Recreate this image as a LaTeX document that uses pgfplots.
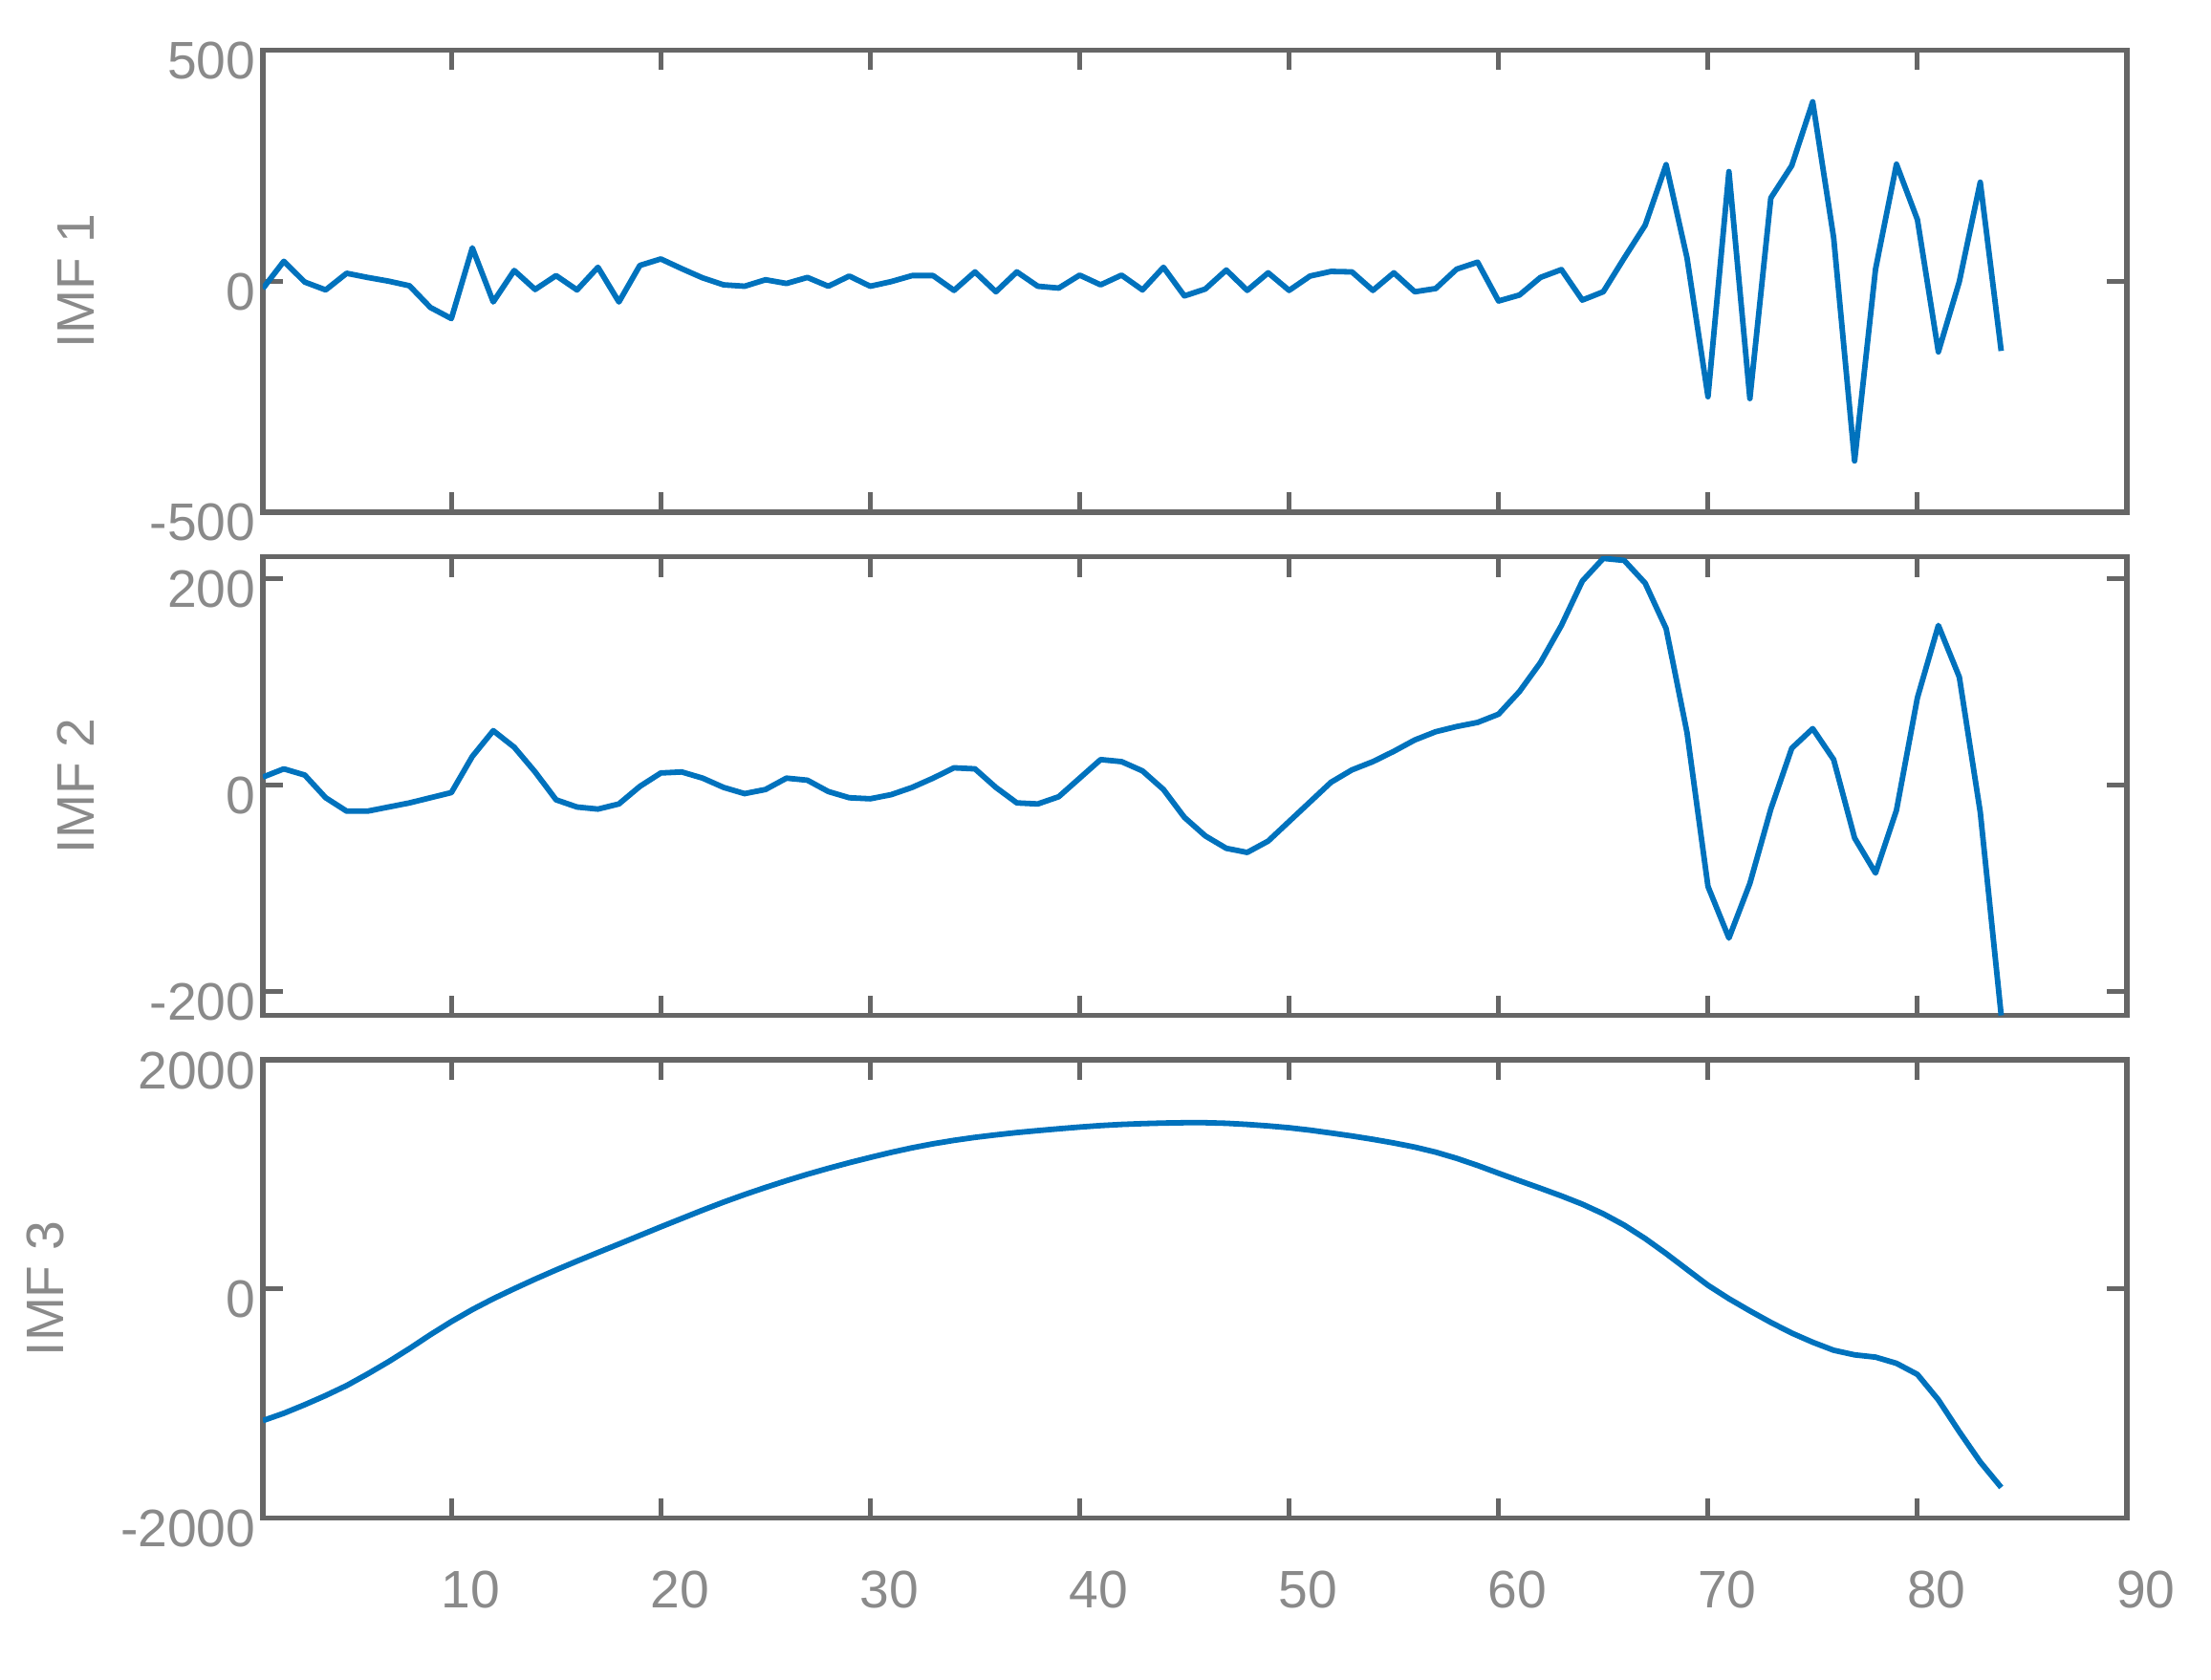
\documentclass[border=0pt]{standalone}
\usepackage{fontspec}
\setmainfont{Liberation Sans}
\usepackage{pgfplots}
\pgfplotsset{compat=1.18}
\definecolor{axgray}{RGB}{102,102,102}
\definecolor{txtgray}{RGB}{138,138,138}
\definecolor{mblue}{RGB}{0,114,189}
\pgfplotsset{imf/.style={
  scale only axis, width=487.5pt, xmin=1, xmax=90,
  anchor=south west,
  axis line style={axgray, line width=1.3pt},
  tick style={axgray, line width=1.3pt},
  major tick length=5.25pt,
  tick align=inside,
  xtick={10,20,30,40,50,60,70,80,90},
  xticklabels={},
  font=\fontsize{13.8}{16}\selectfont,
  tick label style={text=txtgray},
  label style={text=txtgray},
  yticklabel style={yshift=-2.75pt, xshift=1.6pt},
  xticklabel style={yshift=-10.4pt, xshift=5pt},
  ylabel shift=7.8pt,
  cycle list={{mblue, line width=1.45pt, line join=round, mark=none}},
}}
\begin{document}
\begin{tikzpicture}
\path[use as bounding box] (0,0) rectangle (578.25pt,439.25pt);
\begin{axis}[imf, at={(68.75pt,305.25pt)}, height=120.9pt,
  ymin=-500, ymax=500, ytick={-500,0,500}, yticklabels={-500,0,500},
  ylabel={IMF 1}]
\addplot[mblue, line width=1.45pt, line join=round, mark=none] coordinates {(1,-16) (2,43) (3,-2) (4,-19) (5,17) (6,8) (7,0) (8,-10) (9,-57) (10,-81)
(11,72) (12,-45) (13,23) (14,-18) (15,12) (16,-19) (17,30) (18,-45) (19,34) (20,48)
(21,27) (22,7) (23,-8) (24,-11) (25,3) (26,-5) (27,8) (28,-11) (29,11) (30,-11)
(31,-1) (32,12) (33,12) (34,-20) (35,20) (36,-23) (37,20) (38,-11) (39,-15) (40,13)
(41,-8) (42,13) (43,-19) (44,30) (45,-32) (46,-17) (47,24) (48,-20) (49,18) (50,-20)
(51,11) (52,21) (53,20) (54,-20) (55,18) (56,-23) (57,-16) (58,26) (59,41) (60,-43)
(61,-30) (62,8) (63,25) (64,-41) (65,-23) (66,50) (67,121) (68,252) (69,50) (70,-250)
(71,237) (72,-254) (73,180) (74,250) (75,388) (76,94) (77,-389) (78,26) (79,253) (80,133)
(81,-153) (82,-1) (83,214) (84,-151)};
\end{axis}
\begin{axis}[imf, at={(68.75pt,173.6pt)}, height=120pt,
  ymin=-223, ymax=221.6, ytick={-200,0,200}, yticklabels={-200,0,200},
  ylabel={IMF 2}]
\addplot[mblue, line width=1.45pt, line join=round, mark=none] coordinates {(1,8) (2,16) (3,10) (4,-12) (5,-25) (6,-25) (7,-21) (8,-17) (9,-12) (10,-7)
(11,28) (12,53) (13,37) (14,13) (15,-14) (16,-21) (17,-23) (18,-18) (19,-1) (20,12)
(21,13) (22,7) (23,-2) (24,-8) (25,-4) (26,7) (27,5) (28,-6) (29,-12) (30,-13)
(31,-9) (32,-2) (33,7) (34,17) (35,16) (36,-2) (37,-17) (38,-18) (39,-11) (40,7)
(41,25) (42,23) (43,14) (44,-4) (45,-31) (46,-49) (47,-61) (48,-65) (49,-54) (50,-35)
(51,-16) (52,3) (53,15) (54,23) (55,33) (56,44) (57,52) (58,57) (59,61) (60,69)
(61,91) (62,119) (63,155) (64,198) (65,220) (66,218) (67,196) (68,152) (69,51) (70,-98)
(71,-148) (72,-95) (73,-23) (74,36) (75,55) (76,25) (77,-51) (78,-85) (79,-24) (80,85)
(81,155) (82,105) (83,-26) (84,-223)};
\end{axis}
\begin{axis}[imf, at={(68.75pt,42.1pt)}, height=119.9pt,
  ymin=-2000, ymax=2000, ytick={-2000,0,2000}, yticklabels={-2000,0,2000},
  xticklabels={10,20,30,40,50,60,70,80,90},
  ylabel={IMF 3}]
\addplot[mblue, line width=1.45pt, line join=round, mark=none] coordinates {(1,-1149) (2,-1085) (3,-1010) (4,-930) (5,-843) (6,-742) (7,-635) (8,-520) (9,-399) (10,-285)
(11,-180) (12,-85) (13,2) (14,86) (15,166) (16,243) (17,318) (18,392) (19,467) (20,542)
(21,615) (22,688) (23,758) (24,824) (25,886) (26,945) (27,1001) (28,1053) (29,1102) (30,1148)
(31,1192) (32,1232) (33,1267) (34,1297) (35,1323) (36,1345) (37,1365) (38,1382) (39,1398) (40,1413)
(41,1426) (42,1436) (43,1443) (44,1448) (45,1451) (46,1451) (47,1446) (48,1436) (49,1423) (50,1407)
(51,1386) (52,1361) (53,1335) (54,1306) (55,1274) (56,1238) (57,1194) (58,1140) (59,1078) (60,1010)
(61,944) (62,879) (63,812) (64,740) (65,656) (66,557) (67,440) (68,309) (69,170) (70,32)
(71,-85) (72,-191) (73,-292) (74,-385) (75,-465) (76,-535) (77,-575) (78,-595) (79,-649) (80,-746)
(81,-968) (82,-1246) (83,-1510) (84,-1732)};
\end{axis}
\end{tikzpicture}
\end{document}
